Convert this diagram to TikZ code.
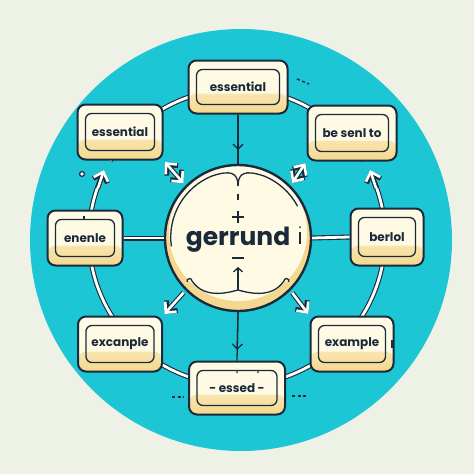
\documentclass[tikz,border=0pt]{standalone}
\usepackage{fontspec}
\newfontfamily\tagfont{Poppins}
\usetikzlibrary{calc}
\usetikzlibrary{arrows.meta}

\definecolor{paper}{HTML}{EEF2E6}
\definecolor{lagoon}{HTML}{1DC6D5}
\definecolor{ink}{HTML}{1B2A3B}
\definecolor{cream}{HTML}{FFFAE4}
\definecolor{band}{HTML}{F4D88F}

\tikzset{
  tag/.style={draw=ink, line width=2pt, rounded corners=8pt, fill=cream,
    inner sep=0pt, text=ink, font=\tagfont\bfseries\fontsize{12}{14}\selectfont,
    path picture={
      \shade[top color=cream, bottom color=band]
        (path picture bounding box.south west) rectangle ([yshift=20pt]path picture bounding box.south east);
      \draw[ink, line width=1.3pt, rounded corners=6pt]
        ([shift={(8pt,9pt)}]path picture bounding box.south west) rectangle
        ([shift={(-8pt,-9pt)}]path picture bounding box.north east);
    }},
  rail/.style={white, line width=2.8pt, preaction={draw=ink, line width=5pt}},
  thin/.style={ink, line width=1.3pt},
  barb/.tip={Straight Barb[length=8pt, width=15pt]},
}

\newcommand{\whitearrow}[3]{%
  \draw[ink, line width=4.8pt, #1] #2 -- #3;
  \draw[white, line width=2.6pt, #1] #2 -- #3;}

\begin{document}
\begin{tikzpicture}[x=1pt, y=-1pt]
    \useasboundingbox (0,0) rectangle (474,474);
    \fill[paper] (0,0) rectangle (474,474);
    \fill[lagoon] (241,240) circle (211);

    \coordinate (ctr) at (237,237);

    % ring
    \draw[rail] (ctr) ++(211:148) arc (211:329:148);
    \draw[rail] (ctr) ++(-24:148) arc (-24:204:148);
    \coordinate (lfoot) at (98,188);
    \coordinate (ltip) at (104,170);
    \coordinate (rfoot) at (376,188);
    \coordinate (rtip) at (370,170);
    \whitearrow{-{barb}}{(lfoot)}{(ltip)}
    \whitearrow{-{barb}}{(rfoot)}{(rtip)}
    \draw[ink, line width=1.2pt, fill=white] (82,174) circle (2.4);

    % centre
    \node[circle, draw=ink, line width=2.4pt, fill=cream, minimum size=146pt, inner sep=0pt,
      path picture={
        \fill[band] (path picture bounding box.south west) rectangle (path picture bounding box.north east);
        \fill[cream] ([yshift=6pt]path picture bounding box.center) circle (69pt);
      }] (hub) at (238,238) {};
    \node[text=ink, font=\tagfont\bfseries\fontsize{25}{28}\selectfont] (word) at (238,240) {gerrund};

    \draw[thin] (212,176) .. controls (230,170) and (238,172) .. (238,186);
    \draw[thin] (264,176) .. controls (246,170) and (238,172) .. (238,186);
    \draw[thin] (212,176) arc (248:172:66);
    \draw[thin] (264,176) arc (292:332:66);
    \draw[thin] (238,194) -- (238,200);
    \draw[thin] (232,217) -- (244,217);
    \draw[thin] (238,211) -- (238,223);
    \draw[thin] (232,258) -- (244,258);
    \draw[thin] (300,232) -- (300,244);
    \fill[ink] (300,227) circle (1pt);
    \draw[thin] (192,281) .. controls (205,300) and (230,292) .. (238,290)
      .. controls (246,292) and (271,300) .. (284,281);
    \draw[thin, -{Straight Barb[length=4pt, width=9pt]}] (238,290) -- (238,267);
    \draw[thin] (192,281) arc (0:-200:2.5);
    \draw[thin] (284,281) arc (180:380:2.5);

    % boxes
    \node[tag, minimum width=99pt, minimum height=53pt] (top) at (238,87) {essential};
    \node[tag, minimum width=85pt, minimum height=55pt] (tl) at (120,132) {essential};
    \node[tag, minimum width=89pt, minimum height=55pt] (tr) at (352,133) {be senl to};
    \node[tag, minimum width=75pt, minimum height=55pt] (lf) at (85,238) {enenle};
    \node[tag, minimum width=73pt, minimum height=57pt] (rt) at (387,237) {berlol};
    \node[tag, minimum width=84pt, minimum height=55pt] (bl) at (120,344) {excanple};
    \node[tag, minimum width=83pt, minimum height=55pt] (br) at (352,344) {example};
    \node[tag, minimum width=96pt, minimum height=53pt] (bt) at (237,388) {- essed -};

    \draw[thin] (84,216) -- (84,219);
    \draw[thin] (392,340) -- (392,348);
    \fill[ink] (237,372) circle (1pt);
    \fill[ink] (258,372) circle (1pt);
    \draw[ink, line width=1.4pt, dash pattern=on 3pt off 2.5pt] (172,397) -- (184,397);
    \draw[ink, line width=1.4pt, dash pattern=on 3pt off 2.5pt] (292,396) -- (306,396);
    \draw[ink, line width=1.4pt, dash pattern=on 3pt off 2.5pt] (297,79) -- (309,84);

    % connectors
    \draw[rail] (lf.east) -- (hub.west);
    \draw[rail] (hub.east) -- (rt.west);
    \draw[thin] (top.south) -- (hub.north);
    \draw[thin, -{Straight Barb[length=5pt, width=10pt]}] (top.south) -- ($(top.south)!0.72!(hub.north)$);
    \draw[thin] (hub.south) -- (bt.north);
    \draw[thin, -{Straight Barb[length=5pt, width=10pt]}] (hub.south) -- ($(hub.south)!0.78!(bt.north)$);

    \whitearrow{{barb}-{barb}, shorten <=2pt, shorten >=3pt}{(tl.south east)}{(hub.135)}
    \whitearrow{{barb}-{barb}, shorten <=2pt, shorten >=3pt}{(tr.south west)}{(hub.45)}
    \whitearrow{-{barb}, shorten <=3pt, shorten >=2pt}{(hub.225)}{(bl.north east)}
    \whitearrow{-{barb}, shorten <=3pt, shorten >=2pt}{(hub.315)}{(br.north west)}
\end{tikzpicture}
\end{document}
